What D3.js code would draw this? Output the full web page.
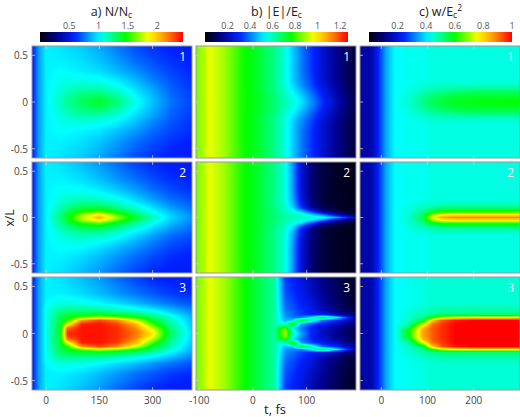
<!DOCTYPE html>
<html><head><meta charset="utf-8">
<script src="https://cdn.jsdelivr.net/npm/d3@7"></script>
<style>body{margin:0;background:#fff}text{font-family:"Open Sans",sans-serif}</style>
</head><body><svg id="c" width="520" height="417"></svg>
<script>
// half-profile x samples (field symmetric in x)
const xs = [0,0.03,0.06,0.1,0.14,0.17,0.2,0.25,0.32,0.42,0.58];
const tsA = [-40,-20,0,40,60,100,150,200,250,300,350,411];
const tsB = [-106,-80,-50,-20,10,40,60,75,90,110,130,160,192];
const tsC = [-46,-20,-5,10,30,60,90,110,130,160,200,300];
const tDomA=[-40,411], tDomB=[-106,192], tDomC=[-46,300];
const ticksA=[0,150,300], ticksB=[-100,0,100], ticksC=[0,100,200];
const cbDomA=[0,2.44], cbDomB=[0,1.27], cbDomC=[0,1.0];
const cbTicksA=[0.5,1,1.5,2], cbTicksB=[0.2,0.4,0.6,0.8,1,1.2], cbTicksC=[0.2,0.4,0.6,0.8,1];
const yTicks=[0.5,0,-0.5];

const a1=[
[0.55,0.85,1.0,1.12,1.2,1.3,1.38,1.25,1.05,0.9,0.75,0.65],
[0.55,0.85,1.0,1.12,1.2,1.3,1.37,1.24,1.05,0.9,0.75,0.65],
[0.55,0.85,1.0,1.11,1.18,1.27,1.32,1.2,1.03,0.89,0.74,0.64],
[0.55,0.85,1.0,1.1,1.15,1.22,1.25,1.14,1.0,0.87,0.73,0.64],
[0.55,0.85,1.0,1.08,1.12,1.17,1.17,1.09,0.97,0.85,0.72,0.63],
[0.55,0.85,1.0,1.07,1.1,1.13,1.12,1.05,0.94,0.83,0.71,0.62],
[0.55,0.85,1.0,1.06,1.08,1.1,1.08,1.02,0.92,0.8,0.7,0.62],
[0.55,0.85,1.0,1.05,1.05,1.05,1.03,0.97,0.88,0.77,0.68,0.61],
[0.55,0.85,1.0,1.03,1.02,1.0,0.97,0.9,0.82,0.73,0.66,0.6],
[0.55,0.85,1.0,1.0,0.99,0.97,0.92,0.84,0.75,0.68,0.62,0.58],
[0.55,0.85,1.0,0.98,0.96,0.93,0.86,0.77,0.68,0.62,0.58,0.55]];
const a2=[
[0.55,0.85,1.0,1.25,1.4,1.75,2.05,1.7,1.4,1.15,0.95,0.8],
[0.55,0.85,1.0,1.24,1.38,1.68,1.9,1.58,1.32,1.1,0.93,0.79],
[0.55,0.85,1.0,1.2,1.32,1.52,1.62,1.42,1.22,1.04,0.9,0.77],
[0.55,0.85,1.0,1.15,1.24,1.36,1.4,1.27,1.12,0.98,0.85,0.74],
[0.55,0.85,1.0,1.12,1.18,1.25,1.26,1.16,1.04,0.92,0.8,0.71],
[0.55,0.85,1.0,1.1,1.14,1.19,1.18,1.1,0.99,0.88,0.77,0.69],
[0.55,0.85,1.0,1.08,1.11,1.14,1.12,1.05,0.95,0.84,0.74,0.67],
[0.55,0.85,1.0,1.06,1.07,1.08,1.05,0.98,0.89,0.79,0.7,0.64],
[0.55,0.85,1.0,1.03,1.03,1.02,0.97,0.9,0.82,0.73,0.66,0.61],
[0.55,0.85,1.0,1.0,0.99,0.96,0.9,0.82,0.74,0.67,0.61,0.58],
[0.55,0.85,1.0,0.97,0.95,0.9,0.83,0.74,0.66,0.6,0.57,0.55]];
const a3=[
[0.55,0.85,1.05,1.4,2.35,2.4,2.4,2.35,2.2,1.9,1.3,0.95],
[0.55,0.85,1.05,1.4,2.3,2.4,2.4,2.35,2.2,1.85,1.28,0.94],
[0.55,0.85,1.05,1.4,2.2,2.4,2.4,2.35,2.15,1.75,1.25,0.93],
[0.55,0.85,1.05,1.38,1.8,2.38,2.4,2.3,2.05,1.55,1.2,0.91],
[0.55,0.85,1.05,1.36,1.5,2.1,2.3,2.15,1.8,1.4,1.15,0.89],
[0.55,0.85,1.05,1.33,1.42,1.6,1.75,1.65,1.5,1.3,1.1,0.87],
[0.55,0.85,1.05,1.3,1.35,1.4,1.42,1.38,1.3,1.18,1.02,0.84],
[0.55,0.85,1.05,1.2,1.22,1.22,1.2,1.15,1.08,1.0,0.9,0.78],
[0.55,0.85,1.02,1.08,1.08,1.06,1.02,0.96,0.9,0.82,0.75,0.68],
[0.55,0.85,1.0,1.0,0.99,0.96,0.9,0.83,0.76,0.7,0.64,0.6],
[0.55,0.85,1.0,0.97,0.95,0.9,0.83,0.74,0.66,0.6,0.57,0.55]];
const b1=[
[0.85,0.95,0.88,0.78,0.73,0.66,0.6,0.56,0.51,0.42,0.32,0.18,0.06],
[0.85,0.95,0.88,0.78,0.73,0.66,0.6,0.56,0.5,0.41,0.31,0.18,0.06],
[0.85,0.95,0.88,0.78,0.73,0.66,0.59,0.55,0.49,0.4,0.3,0.17,0.06],
[0.85,0.95,0.88,0.78,0.73,0.65,0.58,0.53,0.47,0.38,0.29,0.17,0.06],
[0.85,0.95,0.88,0.78,0.72,0.65,0.57,0.51,0.45,0.36,0.27,0.16,0.05],
[0.85,0.95,0.88,0.78,0.72,0.64,0.57,0.5,0.43,0.35,0.26,0.15,0.05],
[0.85,0.95,0.88,0.78,0.72,0.64,0.56,0.49,0.42,0.34,0.25,0.15,0.05],
[0.85,0.95,0.88,0.78,0.72,0.64,0.56,0.48,0.41,0.33,0.24,0.14,0.05],
[0.85,0.95,0.88,0.78,0.72,0.64,0.56,0.48,0.4,0.32,0.24,0.14,0.05],
[0.85,0.95,0.88,0.78,0.72,0.64,0.56,0.48,0.4,0.32,0.24,0.14,0.05],
[0.85,0.95,0.88,0.78,0.72,0.64,0.56,0.48,0.4,0.32,0.24,0.14,0.05]];
const b2=[
[0.85,0.95,0.88,0.78,0.72,0.66,0.62,0.6,0.6,0.58,0.56,0.42,0.2],
[0.85,0.95,0.88,0.78,0.72,0.66,0.61,0.58,0.56,0.5,0.4,0.2,0.06],
[0.85,0.95,0.88,0.78,0.72,0.65,0.6,0.56,0.5,0.35,0.2,0.08,0.03],
[0.85,0.95,0.88,0.78,0.72,0.65,0.58,0.5,0.35,0.18,0.08,0.04,0.02],
[0.85,0.95,0.88,0.78,0.72,0.64,0.57,0.46,0.3,0.14,0.07,0.03,0.02],
[0.85,0.95,0.88,0.78,0.72,0.64,0.57,0.45,0.28,0.13,0.06,0.03,0.02],
[0.85,0.95,0.88,0.78,0.72,0.64,0.56,0.44,0.27,0.13,0.06,0.03,0.02],
[0.85,0.95,0.88,0.78,0.72,0.64,0.56,0.43,0.26,0.12,0.06,0.03,0.02],
[0.85,0.95,0.88,0.78,0.72,0.64,0.56,0.42,0.25,0.12,0.06,0.03,0.02],
[0.85,0.95,0.88,0.78,0.72,0.64,0.56,0.42,0.25,0.12,0.06,0.03,0.02],
[0.85,0.95,0.88,0.78,0.72,0.64,0.56,0.42,0.25,0.12,0.06,0.03,0.02]];
const b3=[
[0.85,0.95,0.88,0.78,0.7,0.62,0.9,0.6,0.45,0.3,0.22,0.14,0.06],
[0.85,0.95,0.88,0.78,0.7,0.62,0.9,0.55,0.42,0.3,0.22,0.14,0.07],
[0.85,0.95,0.88,0.78,0.7,0.62,0.8,0.5,0.4,0.3,0.24,0.16,0.08],
[0.85,0.95,0.88,0.78,0.7,0.62,0.55,0.8,0.45,0.35,0.28,0.2,0.1],
[0.85,0.95,0.88,0.78,0.7,0.62,0.46,0.5,0.75,0.6,0.4,0.3,0.15],
[0.85,0.95,0.88,0.78,0.7,0.62,0.44,0.4,0.4,0.55,0.75,0.5,0.15],
[0.85,0.95,0.88,0.78,0.7,0.62,0.42,0.38,0.34,0.3,0.3,0.2,0.08],
[0.85,0.95,0.88,0.78,0.7,0.62,0.4,0.36,0.32,0.27,0.2,0.12,0.05],
[0.85,0.95,0.88,0.78,0.7,0.62,0.38,0.34,0.3,0.25,0.18,0.1,0.04],
[0.85,0.95,0.88,0.78,0.7,0.62,0.36,0.32,0.28,0.22,0.16,0.09,0.03],
[0.85,0.95,0.88,0.78,0.7,0.62,0.34,0.3,0.26,0.2,0.14,0.08,0.03]];
const c1=[
[0.14,0.15,0.25,0.35,0.42,0.45,0.5,0.54,0.56,0.58,0.59,0.6],
[0.14,0.15,0.25,0.35,0.42,0.45,0.5,0.53,0.55,0.57,0.58,0.59],
[0.14,0.15,0.25,0.35,0.42,0.45,0.49,0.52,0.54,0.56,0.57,0.57],
[0.14,0.15,0.25,0.35,0.42,0.44,0.47,0.5,0.51,0.53,0.54,0.54],
[0.14,0.15,0.25,0.35,0.42,0.44,0.46,0.47,0.48,0.49,0.5,0.5],
[0.14,0.15,0.25,0.35,0.42,0.43,0.45,0.46,0.46,0.47,0.47,0.47],
[0.14,0.15,0.25,0.35,0.42,0.43,0.44,0.45,0.45,0.45,0.45,0.45],
[0.14,0.15,0.25,0.35,0.42,0.43,0.43,0.44,0.44,0.44,0.44,0.44],
[0.14,0.15,0.25,0.35,0.42,0.43,0.43,0.44,0.44,0.44,0.44,0.44],
[0.14,0.15,0.25,0.35,0.42,0.43,0.43,0.44,0.44,0.44,0.44,0.44],
[0.14,0.15,0.25,0.35,0.42,0.43,0.43,0.44,0.44,0.44,0.44,0.44]];
const c2=[
[0.14,0.15,0.25,0.35,0.42,0.45,0.55,0.75,0.85,0.88,0.88,0.88],
[0.14,0.15,0.25,0.35,0.42,0.45,0.53,0.68,0.76,0.78,0.78,0.78],
[0.14,0.15,0.25,0.35,0.42,0.45,0.5,0.58,0.62,0.63,0.63,0.63],
[0.14,0.15,0.25,0.35,0.42,0.44,0.47,0.5,0.52,0.53,0.53,0.53],
[0.14,0.15,0.25,0.35,0.42,0.44,0.45,0.46,0.47,0.47,0.47,0.47],
[0.14,0.15,0.25,0.35,0.42,0.43,0.44,0.45,0.45,0.45,0.45,0.45],
[0.14,0.15,0.25,0.35,0.42,0.43,0.43,0.44,0.44,0.44,0.44,0.44],
[0.14,0.15,0.25,0.35,0.42,0.43,0.43,0.44,0.44,0.44,0.44,0.44],
[0.14,0.15,0.25,0.35,0.42,0.43,0.43,0.44,0.44,0.44,0.44,0.44],
[0.14,0.15,0.25,0.35,0.42,0.43,0.43,0.44,0.44,0.44,0.44,0.44],
[0.14,0.15,0.25,0.35,0.42,0.43,0.43,0.44,0.44,0.44,0.44,0.44]];
const c3=[
[0.14,0.15,0.25,0.35,0.42,0.6,0.85,0.92,0.96,1.0,1.0,1.0],
[0.14,0.15,0.25,0.35,0.42,0.6,0.85,0.92,0.96,1.0,1.0,1.0],
[0.14,0.15,0.25,0.35,0.42,0.55,0.83,0.92,0.96,1.0,1.0,1.0],
[0.14,0.15,0.25,0.35,0.42,0.48,0.72,0.9,0.95,1.0,1.0,1.0],
[0.14,0.15,0.25,0.35,0.42,0.46,0.55,0.8,0.92,0.98,1.0,1.0],
[0.14,0.15,0.25,0.35,0.42,0.45,0.5,0.6,0.7,0.75,0.78,0.78],
[0.14,0.15,0.25,0.35,0.42,0.45,0.48,0.5,0.52,0.52,0.52,0.52],
[0.14,0.15,0.25,0.35,0.42,0.44,0.46,0.47,0.48,0.48,0.48,0.48],
[0.14,0.15,0.25,0.35,0.42,0.43,0.44,0.45,0.45,0.45,0.45,0.45],
[0.14,0.15,0.25,0.35,0.42,0.43,0.44,0.45,0.45,0.45,0.45,0.45],
[0.14,0.15,0.25,0.35,0.42,0.43,0.44,0.45,0.45,0.45,0.45,0.45]];

const cmapStops=[[0,"#00000a"],[0.12,"#000090"],[0.24,"#0020ff"],[0.42,"#00ffff"],[0.6,"#00ff00"],[0.76,"#ffff00"],[0.88,"#ff8c00"],[1,"#ff0000"]];
const cmap=d3.scaleLinear().domain(cmapStops.map(d=>d[0])).range(cmapStops.map(d=>d[1])).interpolate(d3.interpolateRgb).clamp(true);

const svg=d3.select("#c");
const cols=[{x0:32,x1:192,ts:tsA,td:tDomA,ticks:ticksA,cb:cbDomA,cbt:cbTicksA,panels:[a1,a2,a3],cbx:[40,183],title:["a) N/N","c",""]},
 {x0:196,x1:356,ts:tsB,td:tDomB,ticks:ticksB,cb:cbDomB,cbt:cbTicksB,panels:[b1,b2,b3],cbx:[205,348],title:["b) |E|/E","c",""]},
 {x0:360,x1:520,ts:tsC,td:tDomC,ticks:ticksC,cb:cbDomC,cbt:cbTicksC,panels:[c1,c2,c3],cbx:[369,512],title:["c) w/E","c","2"]}];
const rows=[[46,158],[162,273],[277,390]];
const xDom=[-0.6,0.6];

function sample(grid,ts,t,ax){
  const x=Math.min(ax,xs[xs.length-1]);
  let i=d3.bisectRight(xs,x)-1; i=Math.max(0,Math.min(xs.length-2,i));
  let j=d3.bisectRight(ts,t)-1; j=Math.max(0,Math.min(ts.length-2,j));
  const fx=Math.max(0,Math.min(1,(x-xs[i])/(xs[i+1]-xs[i])));
  const ft=Math.max(0,Math.min(1,(t-ts[j])/(ts[j+1]-ts[j])));
  const v00=grid[i][j],v01=grid[i][j+1],v10=grid[i+1][j],v11=grid[i+1][j+1];
  return (v00*(1-ft)+v01*ft)*(1-fx)+(v10*(1-ft)+v11*ft)*fx;
}

cols.forEach((c,ci)=>{
  const xS=d3.scaleLinear().domain(c.td).range([c.x0,c.x1]);
  const norm=d3.scaleLinear().domain(c.cb).range([0,1]);
  const cbS=d3.scaleLinear().domain(c.cb).range(c.cbx);
  const gid="g"+ci;
  const lg=svg.append("defs").append("linearGradient").attr("id",gid);
  d3.range(0,1.001,0.05).forEach(s=>lg.append("stop").attr("offset",s).attr("stop-color",cmap(s)));
  svg.append("rect").attr("x",c.cbx[0]).attr("y",32).attr("width",c.cbx[1]-c.cbx[0]).attr("height",10).attr("fill",`url(#${gid})`);
  svg.append("g").selectAll("text").data(c.cbt).join("text").attr("x",d=>cbS(d)).attr("y",29).attr("text-anchor","middle")
    .attr("font-size",9).attr("fill","#555").text(d=>d);
  const tt=svg.append("text").attr("x",(c.cbx[0]+c.cbx[1])/2).attr("y",16).attr("text-anchor","middle").attr("font-size",12.5).attr("fill","#222");
  tt.append("tspan").text(c.title[0]);
  tt.append("tspan").attr("font-size",8.5).attr("dy",2).text(c.title[1]);
  if(c.title[2]) tt.append("tspan").attr("font-size",8.5).attr("dy",-7).text(c.title[2]);

  c.panels.forEach((grid,ri)=>{
    const [y0,y1]=rows[ri];
    const yS=d3.scaleLinear().domain(xDom).range([y1,y0]);
    const W=Math.round(c.x1-c.x0),H=Math.round(y1-y0);
    const cv=document.createElement("canvas");cv.width=W;cv.height=H;
    const ctx=cv.getContext("2d");const img=ctx.createImageData(W,H);
    for(let py=0;py<H;py++){const xv=Math.abs(yS.invert(y0+py+0.5));
      for(let px=0;px<W;px++){const tv=xS.invert(c.x0+px+0.5);
        const col=d3.rgb(cmap(norm(sample(grid,c.ts,tv,xv))));
        const k=(py*W+px)*4;img.data[k]=col.r;img.data[k+1]=col.g;img.data[k+2]=col.b;img.data[k+3]=255;}}
    ctx.putImageData(img,0,0);
    svg.append("image").attr("x",c.x0).attr("y",y0).attr("width",W).attr("height",H).attr("href",cv.toDataURL());
    svg.append("rect").attr("x",c.x0).attr("y",y0).attr("width",W).attr("height",H).attr("fill","none").attr("stroke","#999").attr("stroke-width",1);
    const tk=svg.append("g").attr("stroke","#ccc").attr("stroke-width",0.8);
    c.ticks.forEach(t=>{tk.append("line").attr("x1",xS(t)).attr("x2",xS(t)).attr("y1",y1).attr("y2",y1-3);
                       tk.append("line").attr("x1",xS(t)).attr("x2",xS(t)).attr("y1",y0).attr("y2",y0+3);});
    yTicks.forEach(v=>{tk.append("line").attr("x1",c.x0).attr("x2",c.x0+3).attr("y1",yS(v)).attr("y2",yS(v));});
    svg.append("text").attr("x",c.x1-6).attr("y",y0+15).attr("text-anchor","end").attr("font-size",12).attr("fill","#fff").text(ri+1);
    if(ci===0){
      svg.append("g").selectAll("text").data(yTicks).join("text").attr("x",c.x0-4).attr("y",d=>yS(d)+4).attr("text-anchor","end")
        .attr("font-size",10).attr("fill","#444").text(d=>d);
    }
    if(ri===2){
      svg.append("g").selectAll("text").data(c.ticks).join("text").attr("x",d=>xS(d)).attr("y",404).attr("text-anchor","middle")
        .attr("font-size",10).attr("fill","#444").text(d=>d);
    }
  });
});
svg.append("text").attr("transform","translate(14,218) rotate(-90)").attr("text-anchor","middle").attr("font-size",12).attr("fill","#222").text("x/L");
svg.append("text").attr("x",275).attr("y",414).attr("text-anchor","middle").attr("font-size",13).attr("fill","#222").text("t, fs");
</script></body></html>
